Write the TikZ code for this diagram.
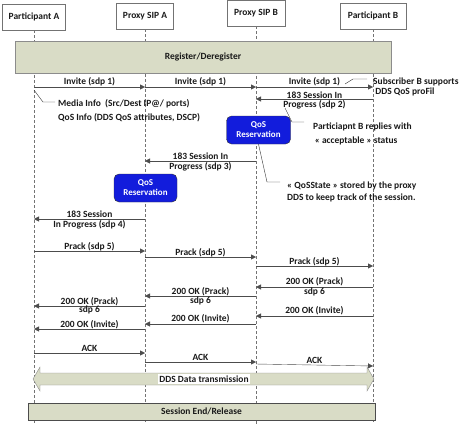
\documentclass[tikz,border=0pt]{standalone}
\usepackage{fontspec}
\setmainfont{Carlito}
\usetikzlibrary{arrows.meta,positioning}
\definecolor{barfill}{RGB}{217,220,198}
\definecolor{qosblue}{RGB}{18,28,220}
\begin{document}
\begin{tikzpicture}[x=1bp,y=-1bp,
    every node/.style={font=\fontsize{9.5}{10}\selectfont\bfseries,text=black!90},
    actor/.style={draw=black!55,fill=white,minimum height=26bp,inner sep=2bp},
    life/.style={draw=black!55,dash pattern=on 3bp off 2bp},
    msg/.style={draw=black!70,-{Triangle[length=5bp,width=5bp]}},
    lbl/.style={inner sep=1bp},
    bar/.style={draw=black!45,fill=barfill,inner sep=1bp},
    qos/.style={draw=black!80,fill=qosblue,rounded corners=5bp,text=white,
      align=center,minimum width=64bp,minimum height=28bp,inner sep=1bp,
      font=\fontsize{9}{10}\selectfont\bfseries},
    note/.style={align=left,anchor=west,inner sep=0pt},
    pointer/.style={draw=black!80}]
  \useasboundingbox (0,0) rectangle (474,424);
  % participants
  \node[actor,minimum width=63bp] (pa) at (34,17) {Participant A};
  \node[actor,minimum width=57bp] (sa) at (145,16) {Proxy SIP A};
  \node[actor,minimum width=58bp] (sb) at (256,13) {Proxy SIP B};
  \node[actor,minimum width=66bp] (pb) at (373,16) {Participant B};
  \foreach \n in {pa,sa,sb,pb}
    \draw[life] (\n.south) -- (\n.south |- 0,424);
  % phases
  \node[bar,minimum width=376bp,minimum height=32bp] (reg) at (203,57) {Register/Deregister};
  % invite
  \draw[msg] (pa |- 0,87) -- node[lbl,above] {Invite (sdp 1)} (sa |- 0,87);
  \draw[msg] (sa |- 0,87) -- node[lbl,above] {Invite (sdp 1)} (sb |- 0,87);
  \draw[msg] (sb |- 0,87) -- node[lbl,above] {Invite (sdp 1)} (pb |- 0,87);
  \node[note] (subs) at (373,86.5) {Subscriber B supports\\[0bp]\ DDS QoS proFil};
  \draw[pointer] (345,84) -- (353,79) -- (367,79);
  \node[note] (media) at (58,110.5) {Media Info\ \ (Src/Dest IP@/ ports)\\[4bp]QoS Info (DDS QoS attributes, DSCP)};
  \draw[pointer] (pa |- 0,90) -- (43,102) -- (55,102);
  % session in progress
  \draw[msg] (pb |- 0,99) -- node[lbl,above,inner sep=0pt] {183 Session In}
    node[lbl,below] {Progress (sdp 2)} (sb |- 0,99);
  \node[qos] (qosb) at (258.5,130) {QoS\\Reservation};
  \node[note] (reply) at (313,133.5) {Particiapnt B replies with\\[4bp]\,« acceptable » status};
  \draw[pointer] (285,108) -- (292,122) -- (304,122);
  \draw[msg] (sb |- 0,161) -- node[lbl,above] {183 Session In}
    node[lbl,below] {Progress (sdp 3)} (sa |- 0,161);
  \node[note] (state) at (287,191.5) {« QoSState » stored by the proxy\\[2bp]DDS to keep track of the session.};
  \draw[pointer] (qosb.south) -- (267,182) -- (280,182);
  \node[qos,minimum width=63bp] (qosa) at (145.5,188) {QoS\\Reservation};
  \draw[msg] (sa |- 0,219) -- node[lbl,above] {183 Session}
    node[lbl,below] {In Progress (sdp 4)} (pa |- 0,219);
  % prack
  \draw[msg] (pa |- 0,251) -- node[lbl,above,inner sep=0pt] {Prack (sdp 5)} (sa |- 0,251);
  \draw[msg] (sa |- 0,257) -- node[lbl,above,inner sep=0pt] {Prack (sdp 5)} (sb |- 0,257);
  \draw[msg] (sb |- 0,266) -- node[lbl,above,inner sep=0pt] {Prack (sdp 5)} (pb |- 0,266);
  \draw[msg] (pb |- 0,287) -- node[lbl,above] {200 OK (Prack)}
    node[lbl,below] {sdp 6} (sb |- 0,287);
  \draw[msg] (sb |- 0,296) -- node[lbl,above,inner sep=0pt] {200 OK (Prack)}
    node[lbl,below] {sdp 6} (sa |- 0,296);
  \draw[msg] (sa |- 0,306) -- node[lbl,above,inner sep=0pt] {200 OK (Prack)}
    node[lbl,below,inner sep=0pt] {sdp 6} (pa |- 0,306);
  % 200 ok invite
  \draw[msg] (pb |- 0,316) -- node[lbl,above] {200 OK (Invite)} (sb |- 0,316);
  \draw[msg] (sb |- 0,324) -- node[lbl,above] {200 OK (Invite)} (sa |- 0,324);
  \draw[msg] (sa |- 0,329) -- node[lbl,above,inner sep=0pt] {200 OK (Invite)} (pa |- 0,329);
  % ack
  \draw[msg] (pa |- 0,353) -- node[lbl,above] {ACK} (sa |- 0,353);
  \draw[msg] (sa |- 0,362) -- node[lbl,above] {ACK} (sb |- 0,362);
  \draw[msg] (sb |- 0,364) -- node[lbl,above] {ACK} (pb |- 0,366);
  % data
  \draw[draw=black!45,fill=barfill] (33,379) -- (40,367) -- (40,373) -- (367,373)
    -- (367,367) -- (374,379) -- (367,391) -- (367,385) -- (40,385) -- (40,391) -- cycle;
  \node[fill=white,inner sep=1bp,minimum width=88bp,minimum height=10bp] (dds) at (204,379) {DDS Data transmission};
  \node[bar,draw=black!70,minimum width=347bp,minimum height=17bp] (rel) at (201.5,411.5) {Session End/Release};
\end{tikzpicture}
\end{document}
